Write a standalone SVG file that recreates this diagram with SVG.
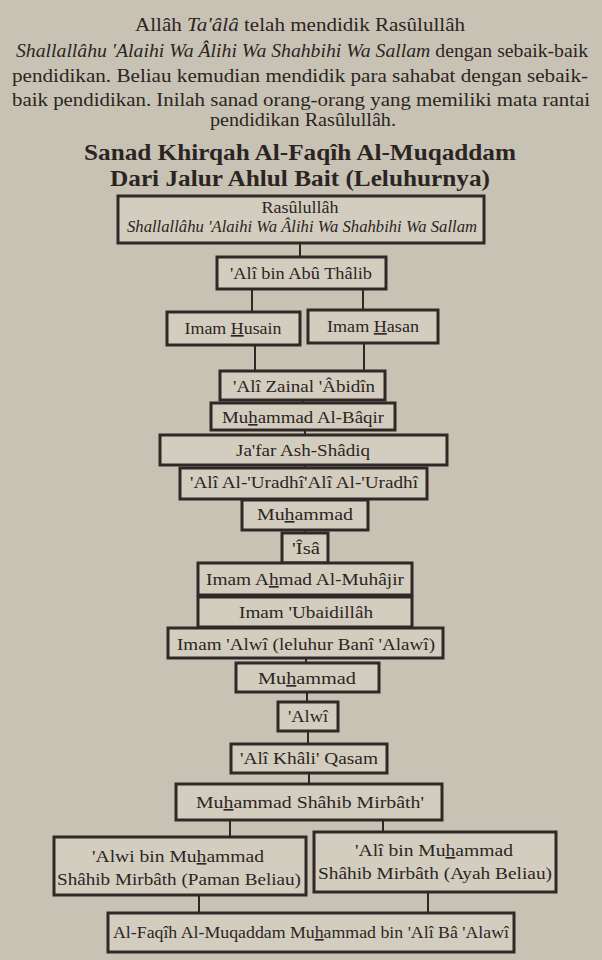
<svg xmlns="http://www.w3.org/2000/svg" width="602" height="960" viewBox="0 0 602 960">
<style>
text{font-family:"Liberation Serif","Times New Roman",serif;fill:#2b2522}
.p{font-size:18px}
.h{font-size:23px;font-weight:bold}
.n{font-size:16.5px;text-anchor:middle}
.i{font-style:italic}
.u{text-decoration:underline}
rect{fill:#d3cdc0;stroke:#2e2826;stroke-width:3}
#connectors line{stroke:#2e2826;stroke-width:2}
</style>
<rect x="0" y="0" width="602" height="960" style="fill:#c8c2b5;stroke:none"/>
<g id="intro">
<text class="p" x="300" y="31" text-anchor="middle" textLength="330" lengthAdjust="spacingAndGlyphs">Allâh <tspan class="i">Ta'âlâ</tspan> telah mendidik Rasûlullâh</text>
<text class="p" x="16" y="57" textLength="572" lengthAdjust="spacingAndGlyphs"><tspan class="i">Shallallâhu 'Alaihi Wa Âlihi Wa Shahbihi Wa Sallam</tspan> dengan sebaik-baik</text>
<text class="p" x="12" y="82" textLength="576" lengthAdjust="spacingAndGlyphs">pendidikan. Beliau kemudian mendidik para sahabat dengan sebaik-</text>
<text class="p" x="12" y="106" textLength="578" lengthAdjust="spacingAndGlyphs">baik pendidikan.  Inilah sanad orang-orang yang memiliki mata rantai</text>
<text class="p" x="303" y="126" text-anchor="middle" textLength="186" lengthAdjust="spacingAndGlyphs">pendidikan Rasûlullâh.</text>
<text class="h" x="300" y="160" text-anchor="middle" textLength="432" lengthAdjust="spacingAndGlyphs">Sanad Khirqah Al-Faqîh Al-Muqaddam</text>
<text class="h" x="300" y="186" text-anchor="middle" textLength="380" lengthAdjust="spacingAndGlyphs">Dari Jalur Ahlul Bait (Leluhurnya)</text>
</g>
<g id="connectors">
<line x1="300" y1="243" x2="300" y2="257"/>
<line x1="252" y1="289" x2="252" y2="312"/>
<line x1="363" y1="289" x2="363" y2="310"/>
<line x1="255" y1="345" x2="255" y2="371"/>
<line x1="364" y1="343" x2="364" y2="371"/>
<line x1="303" y1="400" x2="303" y2="403"/>
<line x1="305" y1="430" x2="305" y2="435"/>
<line x1="305" y1="465" x2="305" y2="468"/>
<line x1="305" y1="499" x2="305" y2="500"/>
<line x1="305" y1="530" x2="305" y2="533"/>
<line x1="305" y1="563" x2="305" y2="563"/>
<line x1="306" y1="595" x2="306" y2="597"/>
<line x1="306" y1="627" x2="306" y2="628"/>
<line x1="306" y1="658" x2="306" y2="663"/>
<line x1="307" y1="692" x2="307" y2="702"/>
<line x1="308" y1="731" x2="308" y2="744"/>
<line x1="309" y1="773" x2="309" y2="784"/>
<line x1="230" y1="820" x2="230" y2="837"/>
<line x1="383" y1="820" x2="383" y2="832"/>
<line x1="199" y1="895" x2="199" y2="913"/>
<line x1="428" y1="892" x2="428" y2="913"/>
</g>
<g id="n1"><rect x="118" y="196" width="366" height="47"/><text class="n" x="300" y="213" textLength="77" lengthAdjust="spacingAndGlyphs">Rasûlullâh</text><text class="n i" x="302" y="232" textLength="350" lengthAdjust="spacingAndGlyphs">Shallallâhu 'Alaihi Wa Âlihi Wa Shahbihi Wa Sallam</text></g>
<g id="n2"><rect x="217" y="257" width="169" height="32"/><text class="n" x="301" y="279" textLength="142" lengthAdjust="spacingAndGlyphs">'Alî bin Abû Thâlib</text></g>
<g id="n3"><rect x="167" y="312" width="133" height="33"/><text class="n" x="233" y="334" textLength="97" lengthAdjust="spacingAndGlyphs">Imam <tspan class="u">H</tspan>usain</text></g>
<g id="n4"><rect x="308" y="310" width="130" height="33"/><text class="n" x="373" y="332" textLength="92" lengthAdjust="spacingAndGlyphs">Imam <tspan class="u">H</tspan>asan</text></g>
<g id="n5"><rect x="220" y="371" width="165" height="29"/><text class="n" x="304" y="392" textLength="142" lengthAdjust="spacingAndGlyphs">'Alî Zainal 'Âbidîn</text></g>
<g id="n6"><rect x="211" y="403" width="184" height="27"/><text class="n" x="303" y="423" textLength="162" lengthAdjust="spacingAndGlyphs">Mu<tspan class="u">h</tspan>ammad Al-Bâqir</text></g>
<g id="n7"><rect x="160" y="435" width="287" height="30"/><text class="n" x="303" y="456" textLength="134" lengthAdjust="spacingAndGlyphs">Ja'far Ash-Shâdiq</text></g>
<g id="n8"><rect x="180" y="468" width="247" height="31"/><text class="n" x="304" y="488" textLength="228" lengthAdjust="spacingAndGlyphs">'Alî Al-'Uradhî'Alî Al-'Uradhî</text></g>
<g id="n9"><rect x="242" y="500" width="126" height="30"/><text class="n" x="305" y="520" textLength="96" lengthAdjust="spacingAndGlyphs">Mu<tspan class="u">h</tspan>ammad</text></g>
<g id="n10"><rect x="282" y="533" width="46" height="30"/><text class="n" x="306" y="554" textLength="28" lengthAdjust="spacingAndGlyphs">'Îsâ</text></g>
<g id="n11"><rect x="198" y="563" width="214" height="32"/><text class="n" x="305" y="585" textLength="198" lengthAdjust="spacingAndGlyphs">Imam A<tspan class="u">h</tspan>mad Al-Muhâjir</text></g>
<g id="n12"><rect x="198" y="597" width="214" height="30"/><text class="n" x="306" y="618" textLength="134" lengthAdjust="spacingAndGlyphs">Imam 'Ubaidillâh</text></g>
<g id="n13"><rect x="168" y="628" width="275" height="30"/><text class="n" x="306" y="650" textLength="258" lengthAdjust="spacingAndGlyphs">Imam 'Alwî (leluhur Banî 'Alawî)</text></g>
<g id="n14"><rect x="236" y="663" width="143" height="29"/><text class="n" x="307" y="684" textLength="98" lengthAdjust="spacingAndGlyphs">Mu<tspan class="u">h</tspan>ammad</text></g>
<g id="n15"><rect x="278" y="702" width="60" height="29"/><text class="n" x="308" y="722" textLength="40" lengthAdjust="spacingAndGlyphs">'Alwî</text></g>
<g id="n16"><rect x="231" y="744" width="156" height="29"/><text class="n" x="309" y="764" textLength="138" lengthAdjust="spacingAndGlyphs">'Alî Khâli' Qasam</text></g>
<g id="n17"><rect x="176" y="784" width="266" height="36"/><text class="n" x="310" y="808" textLength="228" lengthAdjust="spacingAndGlyphs">Mu<tspan class="u">h</tspan>ammad Shâhib Mirbâth'</text></g>
<g id="n18"><rect x="54" y="837" width="252" height="58"/><text class="n" x="178" y="862" textLength="172" lengthAdjust="spacingAndGlyphs">'Alwi bin Mu<tspan class="u">h</tspan>ammad</text><text class="n" x="179" y="885" textLength="244" lengthAdjust="spacingAndGlyphs">Shâhib Mirbâth (Paman Beliau)</text></g>
<g id="n19"><rect x="314" y="832" width="242" height="60"/><text class="n" x="434" y="856" textLength="158" lengthAdjust="spacingAndGlyphs">'Alî bin Mu<tspan class="u">h</tspan>ammad</text><text class="n" x="435" y="879" textLength="234" lengthAdjust="spacingAndGlyphs">Shâhib Mirbâth (Ayah Beliau)</text></g>
<g id="n20"><rect x="108" y="913" width="406" height="39"/><text class="n" x="311" y="938" textLength="396" lengthAdjust="spacingAndGlyphs">Al-Faqîh Al-Muqaddam Mu<tspan class="u">h</tspan>ammad bin 'Alî Bâ 'Alawî</text></g>
</svg>
